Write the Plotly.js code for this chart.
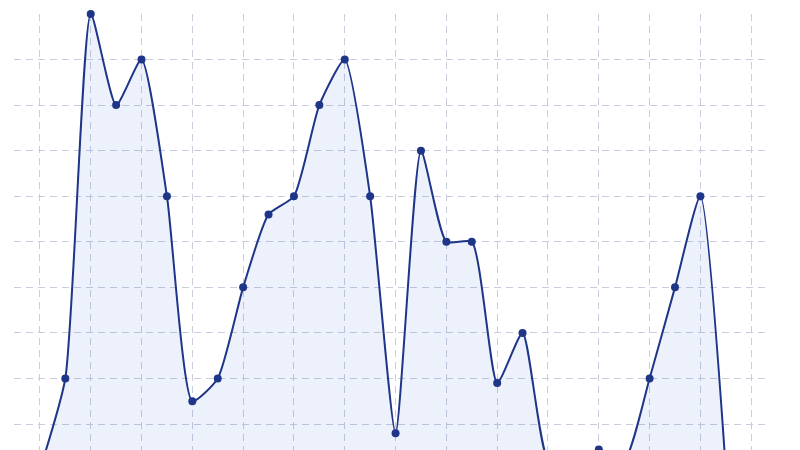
<!DOCTYPE html>
<html>
<head>
<meta charset="utf-8">
<script src="https://cdn.plot.ly/plotly-3.0.1.min.js"></script>
<style>
  html, body { margin: 0; padding: 0; background: #ffffff; }
  #chart { width: 800px; height: 450px; }
</style>
</head>
<body>
<div id="chart"></div>
<script>
// one point every half grid step
var steps = [0, 1, 2, 3, 4, 5, 6, 7, 8, 9, 10, 11, 12, 13, 14,
             15, 16, 17, 18, 19, 20, 21, 22, 23, 24, 25, 26, 27];
var values = [0, 20, 100, 80, 90, 60, 15, 20, 40, 56, 60, 80, 90, 60, 8,
              70, 50, 50, 19, 30, 2, 0, 4.4, 2, 20, 40, 60, 0];

var navy = '#1e3588';

var data = [{
    x: steps,
    y: values,
    type: 'scatter',
    mode: 'lines+markers',
    line: {shape: 'spline', smoothing: 0.55, color: navy, width: 2},
    marker: {size: 8, color: navy},
    fill: 'tozeroy',
    fillcolor: 'rgba(60,100,210,0.09)',
    cliponaxis: false,
    hoverinfo: 'none'
}];

var grid = {
    showgrid: true,
    gridcolor: '#c8ccdb',
    griddash: '7px,5px',
    gridwidth: 1,
    zeroline: false,
    showline: false,
    showticklabels: false,
    ticks: ''
};

var layout = {
    width: 800,
    height: 450,
    margin: {l: 14, r: 30, t: 14, b: 0},
    paper_bgcolor: '#ffffff',
    plot_bgcolor: '#ffffff',
    showlegend: false,
    xaxis: Object.assign({}, grid, {range: [-1.02, 28.74], tick0: 0, dtick: 2}),
    yaxis: Object.assign({}, grid, {range: [4.3, 100.001], tick0: 0, dtick: 10})
};

Plotly.newPlot('chart', data, layout, {staticPlot: true});
</script>
</body>
</html>
